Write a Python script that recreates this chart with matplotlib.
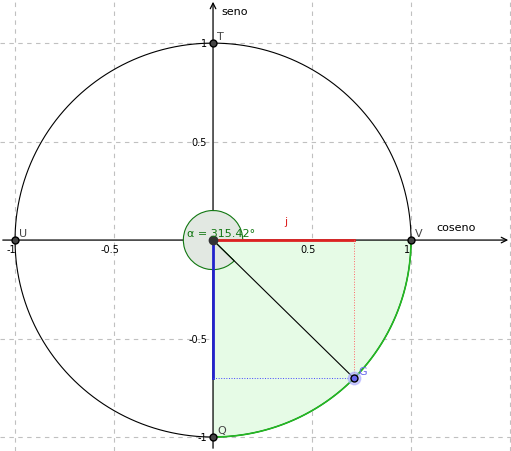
import numpy as np
import matplotlib.pyplot as plt
from matplotlib.patches import Wedge, Circle

angulo = 315.42
puntos = {"T": (0, 1), "U": (-1, 0), "V": (1, 0), "Q": (0, -1)}
ticks_x = [-1, -0.5, 0, 0.5, 1]
ticks_y = [-1, -0.5, 0.5, 1]

gx, gy = np.cos(np.radians(angulo)), np.sin(np.radians(angulo))

fig = plt.figure(figsize=(5.11, 4.52), dpi=100)
ax = fig.add_axes([0, 0, 1, 1])
ax.set_xlim(-1.076, 1.505)
ax.set_ylim(-1.071, 1.224)
ax.axis("off")

# grid
for v in [-1, -0.5, 0.5, 1, 1.5]:
    ax.axvline(v, color="#c0c0c0", lw=0.8, ls=(0, (4, 4)), zorder=0)
for v in [-1, -0.5, 0.5, 1]:
    ax.axhline(v, color="#c0c0c0", lw=0.8, ls=(0, (4, 4)), zorder=0)

# axes
ax.annotate("", xy=(1.505, 0), xytext=(-1.076, 0),
            arrowprops=dict(arrowstyle="->", color="black", lw=0.9))
ax.annotate("", xy=(0, 1.224), xytext=(0, -1.071),
            arrowprops=dict(arrowstyle="->", color="black", lw=0.9))
ax.text(1.13, 0.05, "coseno", fontsize=8)
ax.text(0.04, 1.15, "seno", fontsize=8)
for t in ticks_x:
    ax.text(t - 0.02 if t != 0 else -0.02, -0.02, str(t).replace(".0", "") if t != 0 else "0",
            fontsize=7, ha="center", va="top")
for t in ticks_y:
    ax.text(-0.03, t, str(t).replace(".0", ""), fontsize=7, ha="right", va="center")

# circle
t = np.linspace(0, 2 * np.pi, 400)
ax.plot(np.cos(t), np.sin(t), color="black", lw=0.8)

# green quarter disc
ax.add_patch(Wedge((0, 0), 1, 270, 360, facecolor="#e6fbe6", edgecolor="none", zorder=1))
a = np.linspace(np.radians(270), np.radians(360), 100)
ax.plot(np.cos(a), np.sin(a), color="#22bb22", lw=1.2, zorder=2)

# angle marker
ax.add_patch(Wedge((0, 0), 0.15, 0, angulo, facecolor="#e2e8e2", edgecolor="#117711", lw=0.8, zorder=3))
ax.text(-0.13, 0.02, "α = 315.42°", fontsize=8, color="#117711", zorder=6)

# segments
ax.plot([0, gx], [0, gy], color="black", lw=0.8, zorder=4)
ax.plot([0, gx], [0, 0], color="#dd2222", lw=2, zorder=4)
ax.plot([0, 0], [0, gy], color="#2222cc", lw=2, zorder=4)
ax.plot([gx, gx], [0, gy], color="#ff6666", lw=0.7, ls=":", zorder=4)
ax.plot([0, gx], [gy, gy], color="#4444ff", lw=0.7, ls=":", zorder=4)
ax.text(0.36, 0.08, "j", fontsize=8, color="#dd2222")

# points
for nombre, (px, py) in puntos.items():
    ax.plot(px, py, "o", ms=5, color="#444444", mec="black", zorder=5)
    ax.text(px + 0.02, py + 0.02, nombre, fontsize=8, color="#444444")
ax.plot(0, 0, "o", ms=6, color="#333333", zorder=5)
ax.plot(gx, gy, "o", ms=9, color="#aaaaff", alpha=0.6, zorder=5)
ax.plot(gx, gy, "o", ms=5, color="#6666ee", mec="black", zorder=6)
ax.text(gx + 0.02, gy + 0.02, "G", fontsize=8, color="#6666ee")

fig.savefig("out.png", dpi=100)
